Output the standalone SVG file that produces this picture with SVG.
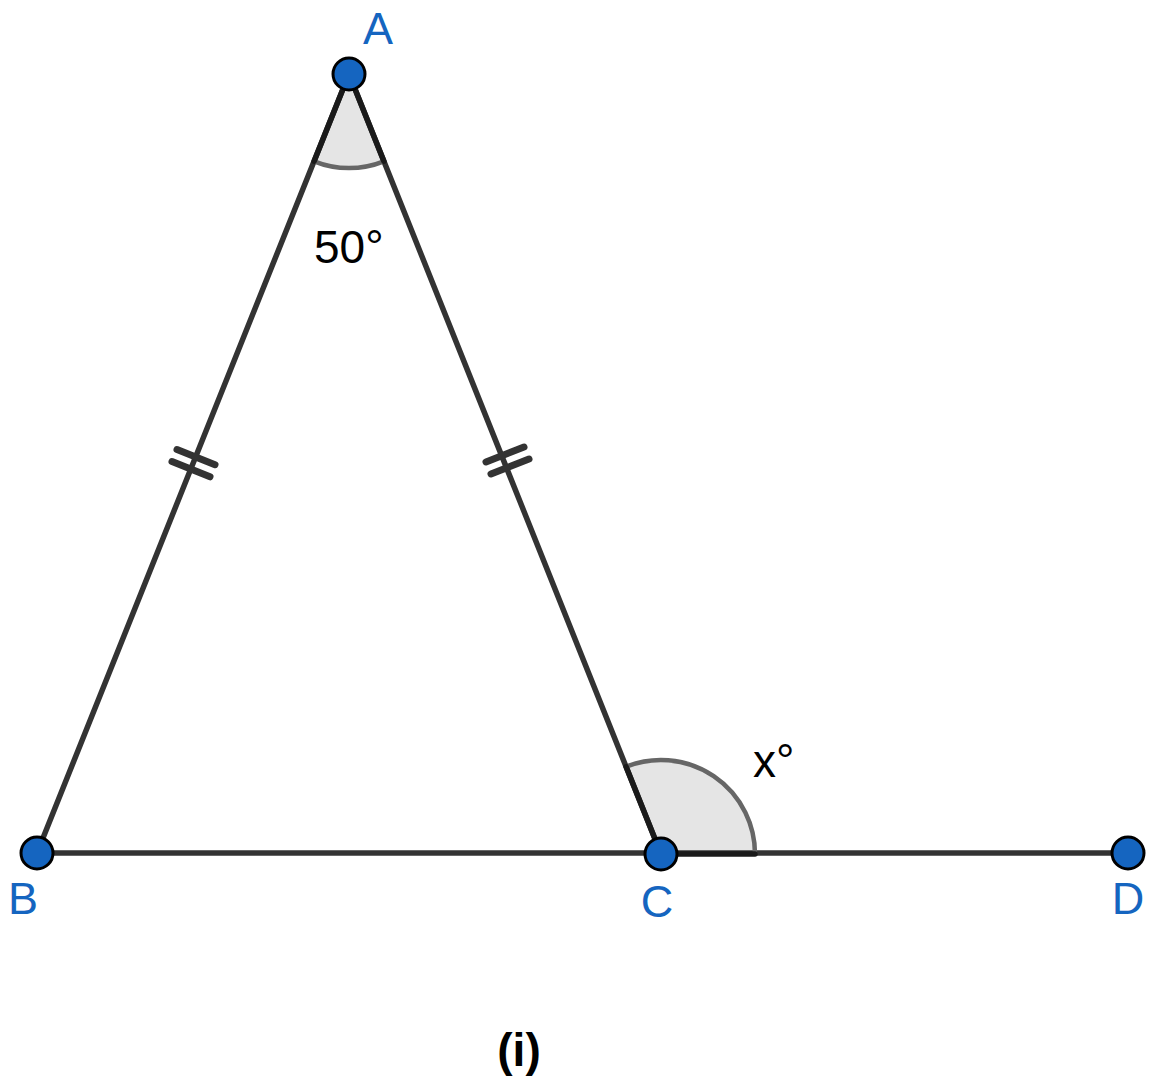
<svg xmlns="http://www.w3.org/2000/svg" width="1156" height="1086" viewBox="0 0 1156 1086">
<style>
.ln{stroke:#333;stroke-width:5.5;fill:none;stroke-linecap:round}
.tick{stroke:#333;stroke-width:7;stroke-linecap:round}
.sec{fill:#e5e5e5;stroke:none}
.arc{fill:none;stroke:#666;stroke-width:4.5}
.rad{stroke:#1a1a1a;stroke-width:5.5;stroke-linecap:round}
.pt{fill:#1565c0;stroke:#000;stroke-width:3}
.lbl{font-family:"Liberation Sans",Arial,sans-serif;font-size:45px;fill:#1565c0;text-anchor:middle}
.txt{font-family:"Liberation Sans",Arial,sans-serif;font-size:46px;fill:#000}
</style>
<rect width="1156" height="1086" fill="#fff"/>
<g id="angles">
<path class="sec" d="M349,74 L314.1,161.3 A94,94 0 0 0 383.9,161.3 Z"/>
<path class="sec" d="M661,854 L755,854 A94,94 0 0 0 626.1,766.7 Z"/>
</g>
<g id="connectors">
<line class="ln" x1="349" y1="74" x2="37" y2="853"/>
<line class="ln" x1="349" y1="74" x2="661" y2="854"/>
<line class="ln" x1="37" y1="853" x2="1128" y2="853"/>
<line class="tick" x1="177" y1="449.5" x2="215" y2="464.7"/>
<line class="tick" x1="172" y1="461.6" x2="210" y2="476.8"/>
<line class="tick" x1="486" y1="462" x2="524" y2="447"/>
<line class="tick" x1="491" y1="474" x2="529" y2="459"/>
</g>
<g id="angle-edges">
<path class="arc" d="M314.1,161.3 A94,94 0 0 0 383.9,161.3"/>
<line class="rad" x1="349" y1="74" x2="314.1" y2="161.3"/>
<line class="rad" x1="349" y1="74" x2="383.9" y2="161.3"/>
<path class="arc" d="M755,854 A94,94 0 0 0 626.1,766.7"/>
<line class="rad" x1="661" y1="854" x2="626.1" y2="766.7"/>
<line class="rad" x1="661" y1="854" x2="755" y2="854"/>
</g>
<g id="A"><circle class="pt" cx="349" cy="74" r="16"/><text class="lbl" x="378" y="44">A</text></g>
<g id="B"><circle class="pt" cx="37" cy="853" r="16"/><text class="lbl" x="23" y="914">B</text></g>
<g id="C"><circle class="pt" cx="661" cy="854" r="16"/><text class="lbl" x="657" y="917">C</text></g>
<g id="D"><circle class="pt" cx="1128" cy="853" r="16"/><text class="lbl" x="1128" y="914">D</text></g>
<text class="txt" x="314" y="263">50°</text>
<text class="txt" x="753" y="777">x°</text>
<text class="txt" x="519" y="1066" text-anchor="middle" font-weight="bold" font-size="48">(i)</text>
</svg>
